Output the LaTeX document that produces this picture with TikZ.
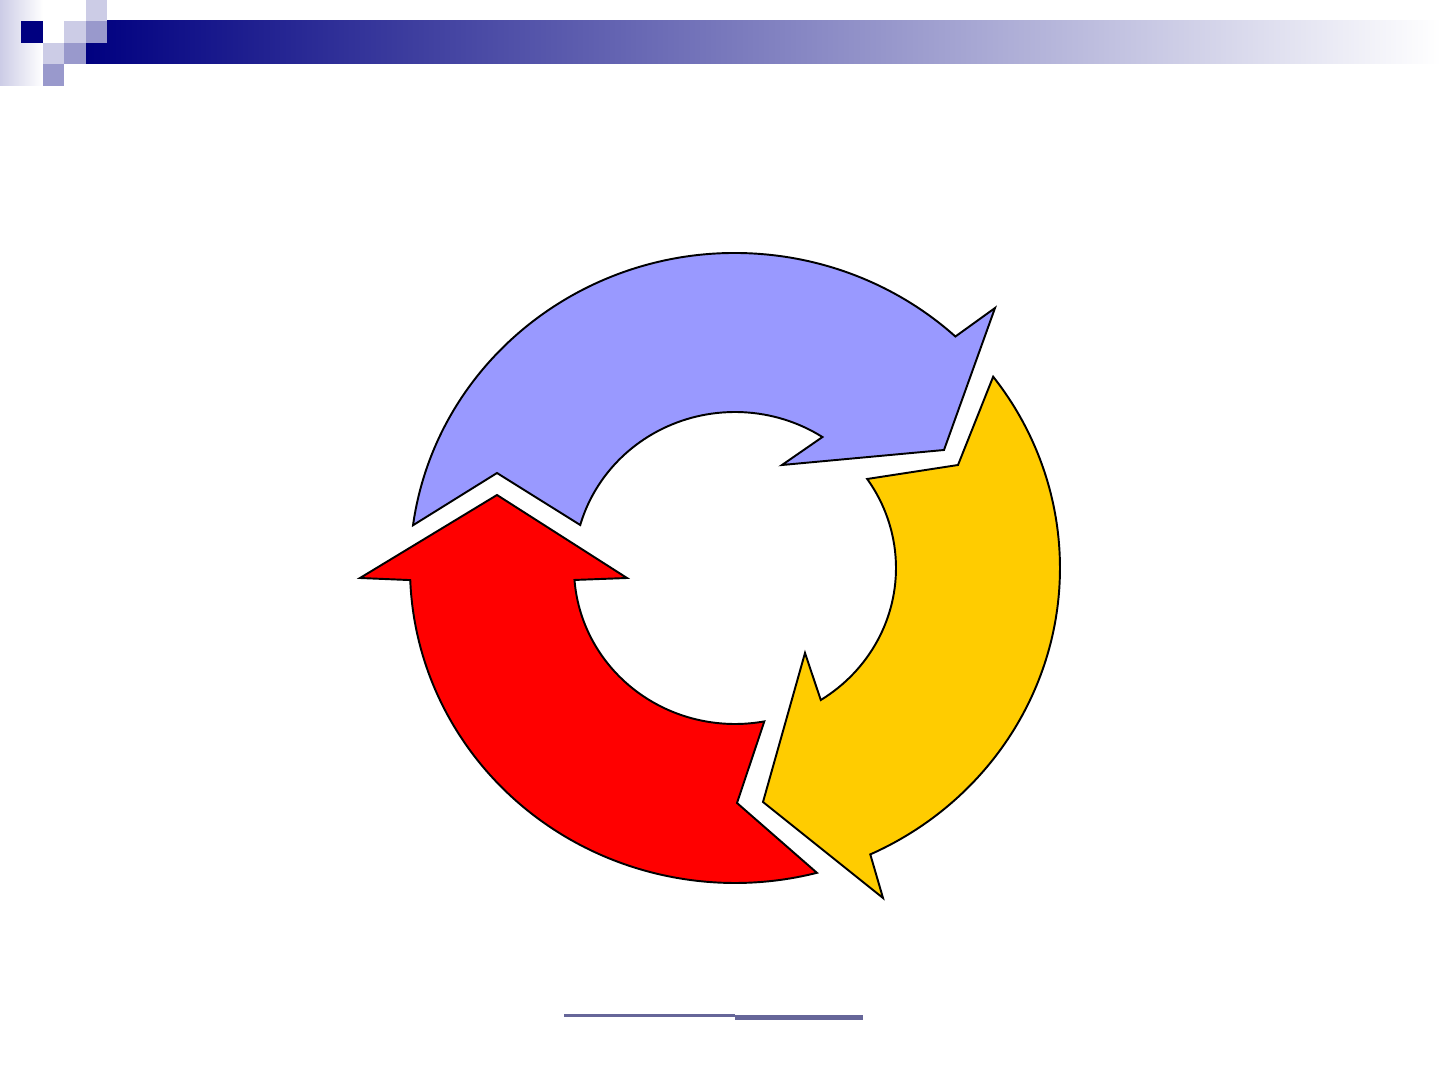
\documentclass[tikz,border=0pt]{standalone}
\usepackage{tikz}
\definecolor{navy}{HTML}{000080}
\definecolor{lightsq}{HTML}{CCCCE6}
\definecolor{midsq}{HTML}{9999CC}
\definecolor{rulecol}{HTML}{666699}
\definecolor{cycblue}{HTML}{9999FF}
\definecolor{cycyellow}{HTML}{FFCC00}
\definecolor{cycred}{HTML}{FF0000}
\tikzset{cycle arrow/.style={
    draw=black, line width=1.1pt, line join=miter, fill=#1
  },
  cycle arrow/.default={cycblue},
  outer arc/.style={x radius=325, y radius=315},
  inner arc/.style={x radius=161, y radius=156}
}

\begin{document}
\begin{tikzpicture}[x=0.02cm,y=-0.02cm]
      \useasboundingbox[fill=white] (0,0) rectangle (1441,1081);
      % title band
      \shade[left color=lightsq, right color=white] (0,0) rectangle (43,86);
      \shade[left color=navy, right color=white] (86,21) rectangle (1441,64);
      \fill[navy] (21,21) rectangle +(22,22);
      \fill[lightsq] (86,0) rectangle +(21,21);
      \fill[lightsq] (64,21) rectangle +(22,22);
      \fill[midsq] (86,21) rectangle +(21,22);
      \fill[lightsq] (43,43) rectangle +(21,21);
      \fill[midsq] (64,43) rectangle +(22,21);
      \fill[midsq] (43,64) rectangle +(21,22);
      \begin{scope}[shift={(735,568)}]
        % blue arrow, over the top
        \draw[cycle arrow=cycblue] (187.8:325 and 315)
          arc[start angle=187.8, end angle=312.7, outer arc]
          -- (260,-260) -- (209,-118) -- (47,-103)
          -- (302.9:161 and 156)
          arc[start angle=302.9, end angle=196, inner arc]
          -- (-238,-95) -- cycle;
        % yellow arrow, down the right side
        \draw[cycle arrow=cycyellow] (322.6:325 and 315)
          arc[start angle=322.6, end angle=425.4, outer arc]
          -- (148,330) -- (28,234) -- (70,85)
          -- (57.8:161 and 156)
          arc[start angle=417.8, end angle=325.2, inner arc]
          -- (223,-103) -- cycle;
        % red arrow, up the left side
        \draw[cycle arrow=cycred] (75.4:325 and 315)
          arc[start angle=75.4, end angle=177.8, outer arc]
          -- (-375,10) -- (-238,-73) -- (-108,10)
          -- (175.6:161 and 156)
          arc[start angle=175.6, end angle=79.5, inner arc]
          -- (2,235) -- cycle;
      \end{scope}
      % footer rules
      \fill[rulecol] (564,1014) rectangle (735,1016.7);
      \fill[rulecol] (735,1015) rectangle (863,1019.7);
    \end{tikzpicture}
\end{document}
